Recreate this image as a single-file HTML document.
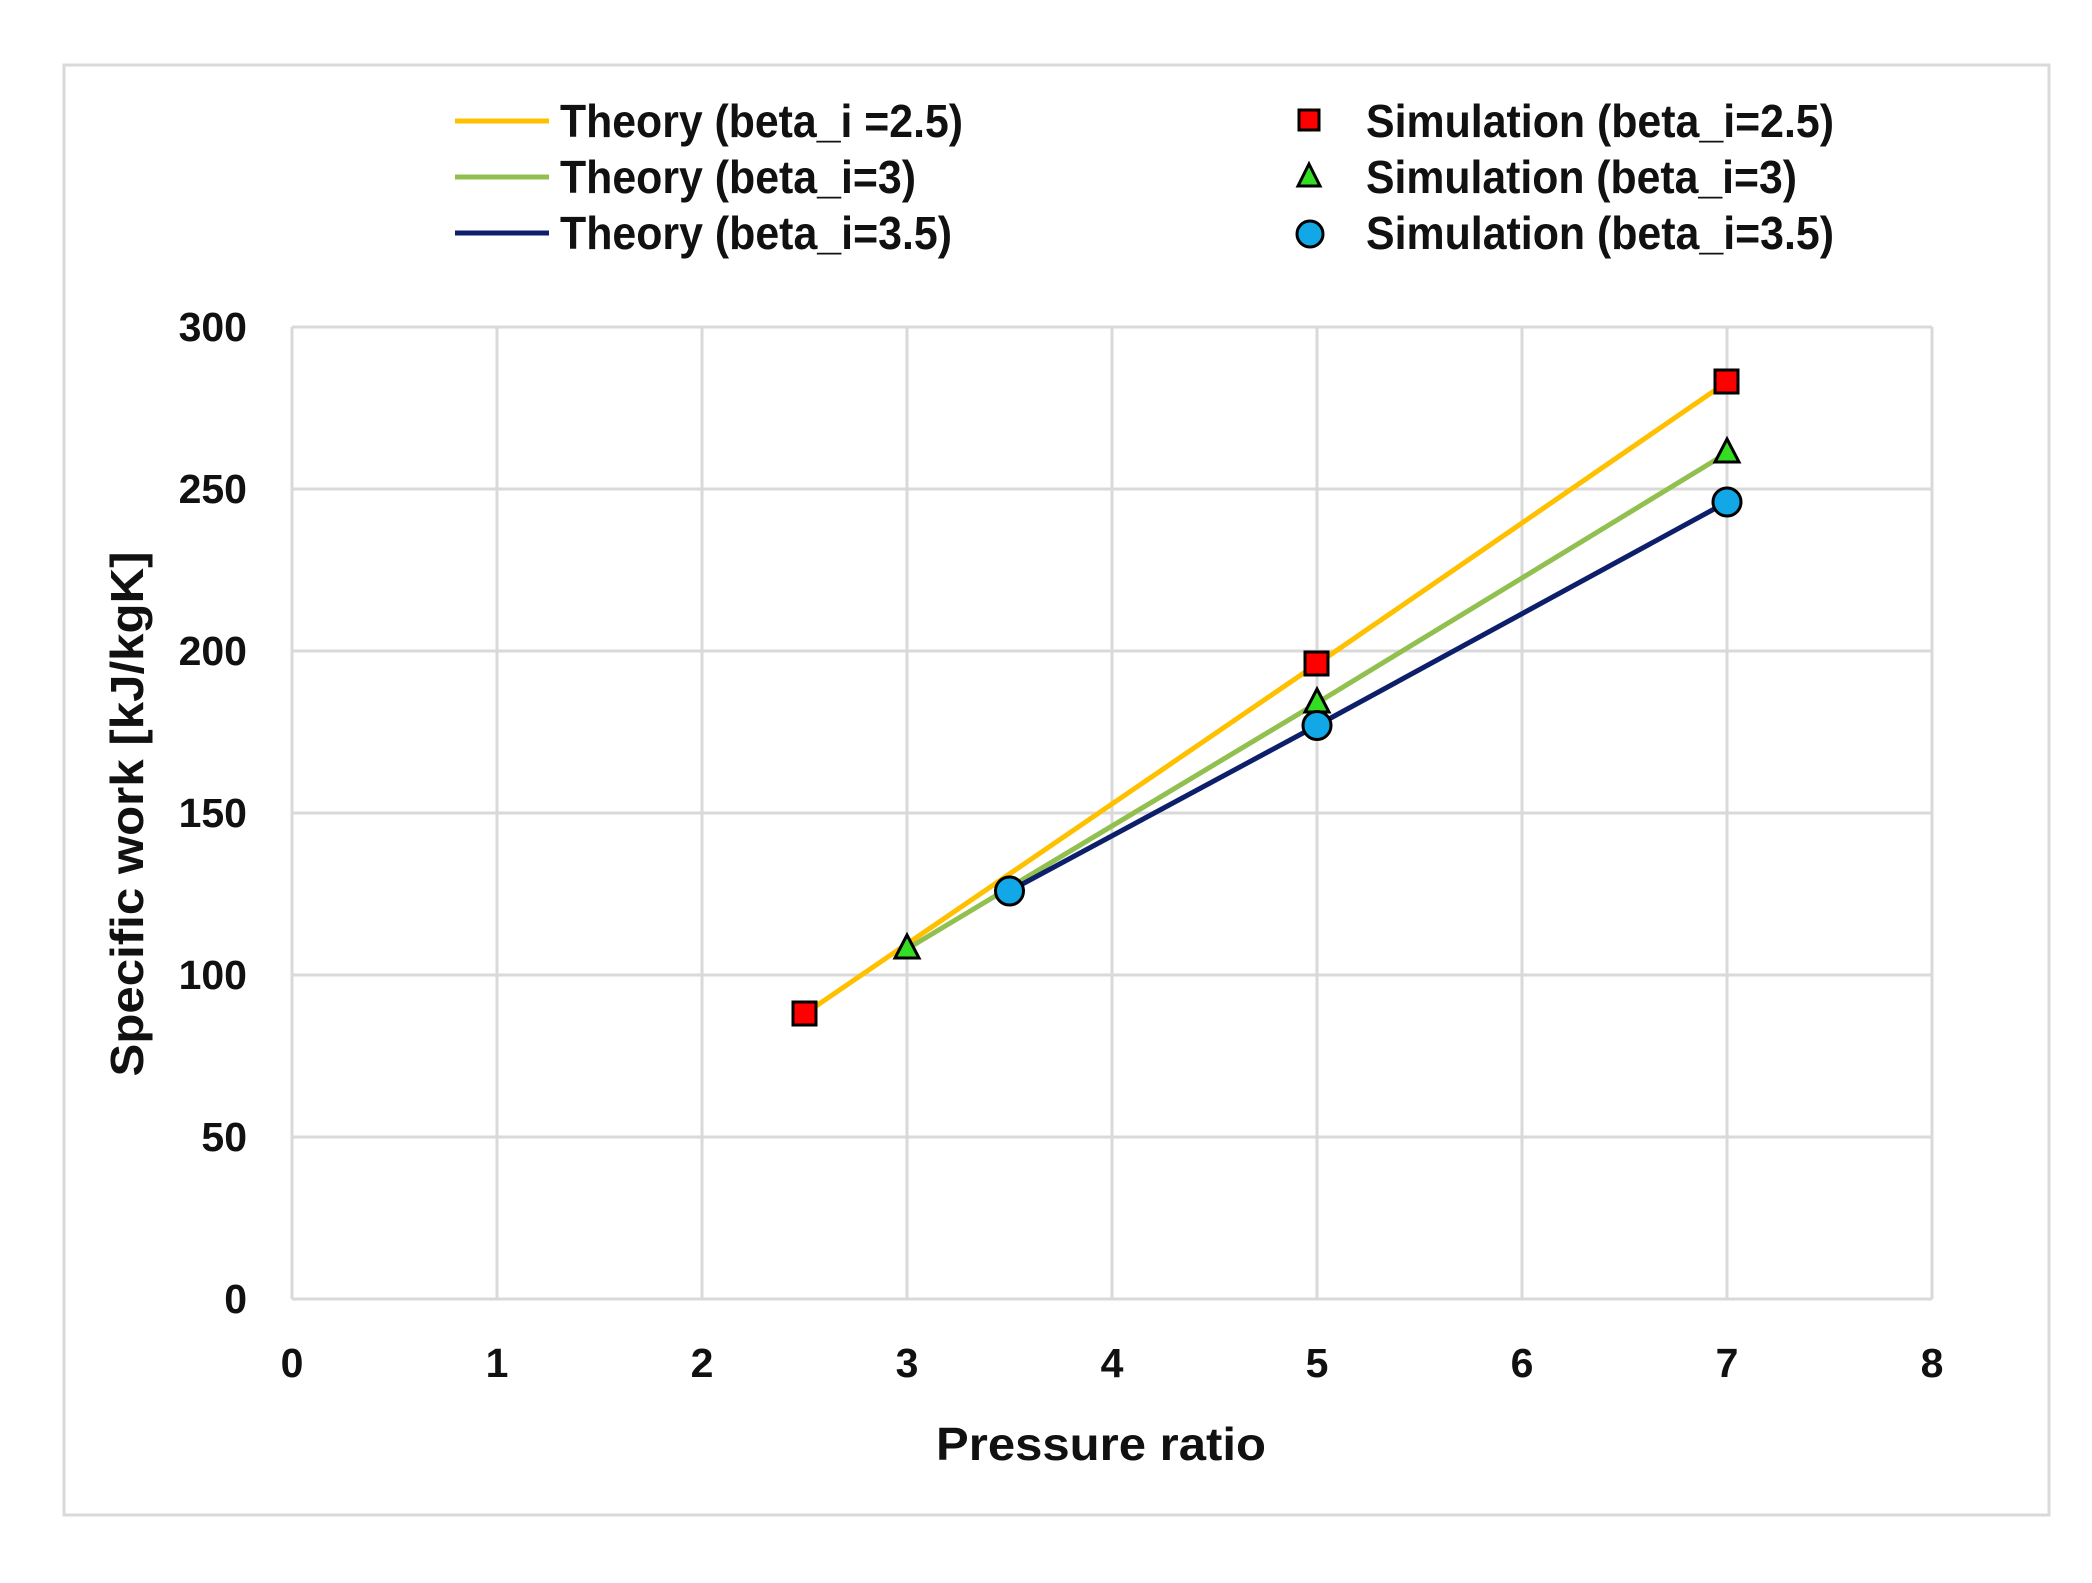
<!DOCTYPE html>
<html><head><meta charset="utf-8"><style>html,body{margin:0;padding:0;background:#fff}</style></head>
<body>
<svg width="2092" height="1578" xmlns="http://www.w3.org/2000/svg" font-family="Liberation Sans, sans-serif">
<rect x="0" y="0" width="2092" height="1578" fill="#fff"/>
<rect x="64" y="65" width="1985" height="1450" fill="#fff" stroke="#d9d9d9" stroke-width="3"/>
<g stroke="#d9d9d9" stroke-width="3">
<line x1="292" y1="327" x2="1932" y2="327"/><line x1="292" y1="489" x2="1932" y2="489"/>
<line x1="292" y1="651" x2="1932" y2="651"/><line x1="292" y1="813" x2="1932" y2="813"/>
<line x1="292" y1="975" x2="1932" y2="975"/><line x1="292" y1="1137" x2="1932" y2="1137"/>
<line x1="292" y1="1299" x2="1932" y2="1299"/>
<line x1="292" y1="327" x2="292" y2="1299"/><line x1="497" y1="327" x2="497" y2="1299"/>
<line x1="702" y1="327" x2="702" y2="1299"/><line x1="907" y1="327" x2="907" y2="1299"/>
<line x1="1112" y1="327" x2="1112" y2="1299"/><line x1="1317" y1="327" x2="1317" y2="1299"/>
<line x1="1522" y1="327" x2="1522" y2="1299"/><line x1="1727" y1="327" x2="1727" y2="1299"/>
<line x1="1932" y1="327" x2="1932" y2="1299"/>
</g>
<g font-size="41" font-weight="bold" fill="#111" text-anchor="end">
<text x="247" y="341">300</text><text x="247" y="503">250</text><text x="247" y="665">200</text>
<text x="247" y="827">150</text><text x="247" y="989">100</text><text x="247" y="1151">50</text>
<text x="247" y="1313">0</text>
</g>
<g font-size="41" font-weight="bold" fill="#111" text-anchor="middle">
<text x="292" y="1377">0</text><text x="497" y="1377">1</text><text x="702" y="1377">2</text>
<text x="907" y="1377">3</text><text x="1112" y="1377">4</text><text x="1317" y="1377">5</text>
<text x="1522" y="1377">6</text><text x="1727" y="1377">7</text><text x="1932" y="1377">8</text>
</g>
<text x="1101" y="1460" font-size="46" font-weight="bold" fill="#111" text-anchor="middle" textLength="330" lengthAdjust="spacingAndGlyphs">Pressure ratio</text>
<text transform="translate(143,814) rotate(-90)" font-size="46" font-weight="bold" fill="#111" text-anchor="middle" textLength="525" lengthAdjust="spacingAndGlyphs">Specific work [kJ/kgK]</text>
<g fill="none" stroke-width="5" stroke-linejoin="round">
<polyline points="804.5,1013.9 1317,664 1727,382" stroke="#ffc000"/>
<polyline points="907,949 1317,703 1727,453" stroke="#92c050"/>
<polyline points="1009.5,891 1317,725.5 1727,502" stroke="#0d1f6b"/>
</g>
<g stroke="#000" stroke-width="3">
<rect x="793" y="1002" width="23" height="23" fill="#f00"/>
<rect x="1305" y="652" width="23" height="23" fill="#f00"/>
<rect x="1715" y="370" width="23" height="23" fill="#f00"/>
<polygon points="907,935 919,958 895,958" fill="#33dd22"/>
<polygon points="1317,689 1329,712 1305,712" fill="#33dd22"/>
<polygon points="1727,439 1739,462 1715,462" fill="#33dd22"/>
<circle cx="1009.5" cy="891" r="14" fill="#12a8e8"/>
<circle cx="1317" cy="725.5" r="14" fill="#12a8e8"/>
<circle cx="1727" cy="502" r="14" fill="#12a8e8"/>
</g>
<g stroke-width="5">
<line x1="455" y1="121" x2="549" y2="121" stroke="#ffc000"/>
<line x1="455" y1="177" x2="549" y2="177" stroke="#92c050"/>
<line x1="455" y1="233" x2="549" y2="233" stroke="#0d1f6b"/>
</g>
<g stroke="#000" stroke-width="3">
<rect x="1299" y="110" width="20" height="20" fill="#f00"/>
<polygon points="1309,164 1320,186 1298,186" fill="#33dd22"/>
<circle cx="1310" cy="234" r="13" fill="#12a8e8"/>
</g>
<g font-size="46" font-weight="bold" fill="#111">
<text x="560" y="137" textLength="403" lengthAdjust="spacingAndGlyphs">Theory (beta_i =2.5)</text>
<text x="560" y="193" textLength="356" lengthAdjust="spacingAndGlyphs">Theory (beta_i=3)</text>
<text x="560" y="249" textLength="392" lengthAdjust="spacingAndGlyphs">Theory (beta_i=3.5)</text>
<text x="1366" y="137" textLength="468" lengthAdjust="spacingAndGlyphs">Simulation (beta_i=2.5)</text>
<text x="1366" y="193" textLength="431" lengthAdjust="spacingAndGlyphs">Simulation (beta_i=3)</text>
<text x="1366" y="249" textLength="468" lengthAdjust="spacingAndGlyphs">Simulation (beta_i=3.5)</text>
</g>
</svg>
</body></html>
